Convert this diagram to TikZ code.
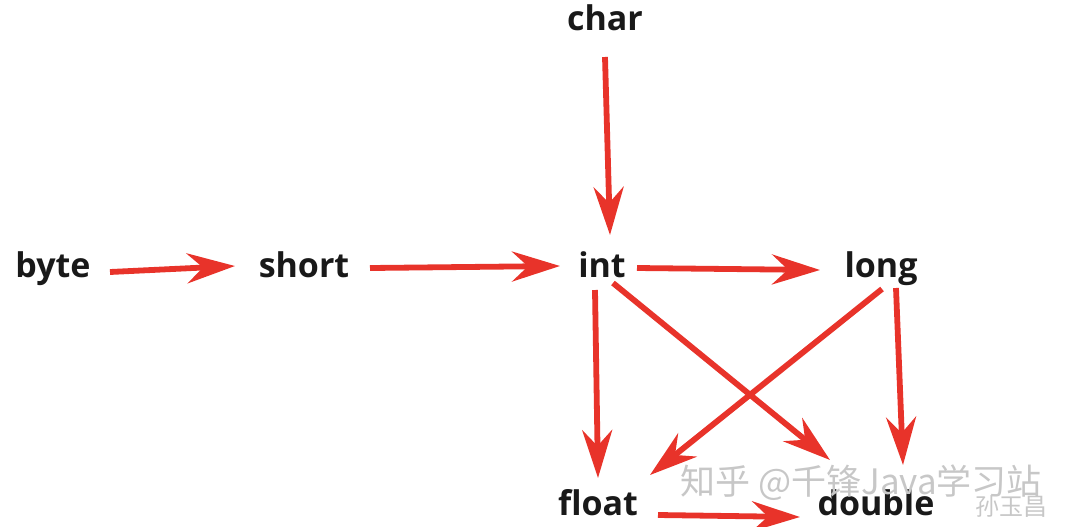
\documentclass[tikz,border=0pt]{standalone}
\usepackage{fontspec}
\setmainfont{Open Sans}
\newfontfamily\cjk{Noto Sans CJK SC}
\usetikzlibrary{arrows.meta,calc}
\definecolor{arr}{HTML}{E8332A}
\begin{document}
\begin{tikzpicture}[x=0.5pt,y=-0.5pt,
  lbl/.style={font=\fontsize{17}{20}\selectfont\bfseries, inner sep=0pt, text=black!90, anchor=base},
  conn/.style={draw=arr, line width=2.9pt, -{Stealth[length=24pt,width=15pt,inset=8pt]}},
  wm/.style={font=\cjk\fontsize{17.5}{18}\selectfont, text=black!22, inner sep=0pt, anchor=base west}]
\useasboundingbox (0,0) rectangle (1072,526);
\node[lbl] (byte) at (53,277) {byte};
\node[lbl] (short) at (304,277) {short};
\node[lbl] (char) at (605,30) {char};
\node[lbl] (int) at (602,277) {int};
\node[lbl] (long) at (881,277) {long};
\node[lbl] (float) at (598,515) {float};
\node[lbl] (double) at (876,515) {double};
\draw[conn] ([shift={(57,-5)}]byte.base) -- ([shift={(-69,-11)}]short.base);
\draw[conn] ([shift={(66,-9)}]short.base) -- ([shift={(-42,-11)}]int.base);
\draw[conn] ([shift={(0,27)}]char.base) -- ([shift={(8,-42)}]int.base);
\draw[conn] ([shift={(35,-9)}]int.base) -- ([shift={(-61,-7)}]long.base);
\draw[conn] ([shift={(-7,13)}]int.base) -- ([shift={(0,-37)}]float.base);
\draw[conn] ([shift={(11,6)}]int.base) -- ([shift={(-46,-55)}]double.base);
\draw[conn] ([shift={(1,12)}]long.base) -- ([shift={(52,-40)}]float.base);
\draw[conn] ([shift={(15,11)}]long.base) -- ([shift={(27,-50)}]double.base);
\draw[conn] ([shift={(60,0)}]float.base) -- ([shift={(-76,2)}]double.base);
\node[wm] (wm1) at (680,494) {知乎 @千锋Java学习站};
\node[wm, font=\cjk\fontsize{12}{14}\selectfont] (wm2) at (975,515) {孙玉昌};
\end{tikzpicture}
\end{document}
